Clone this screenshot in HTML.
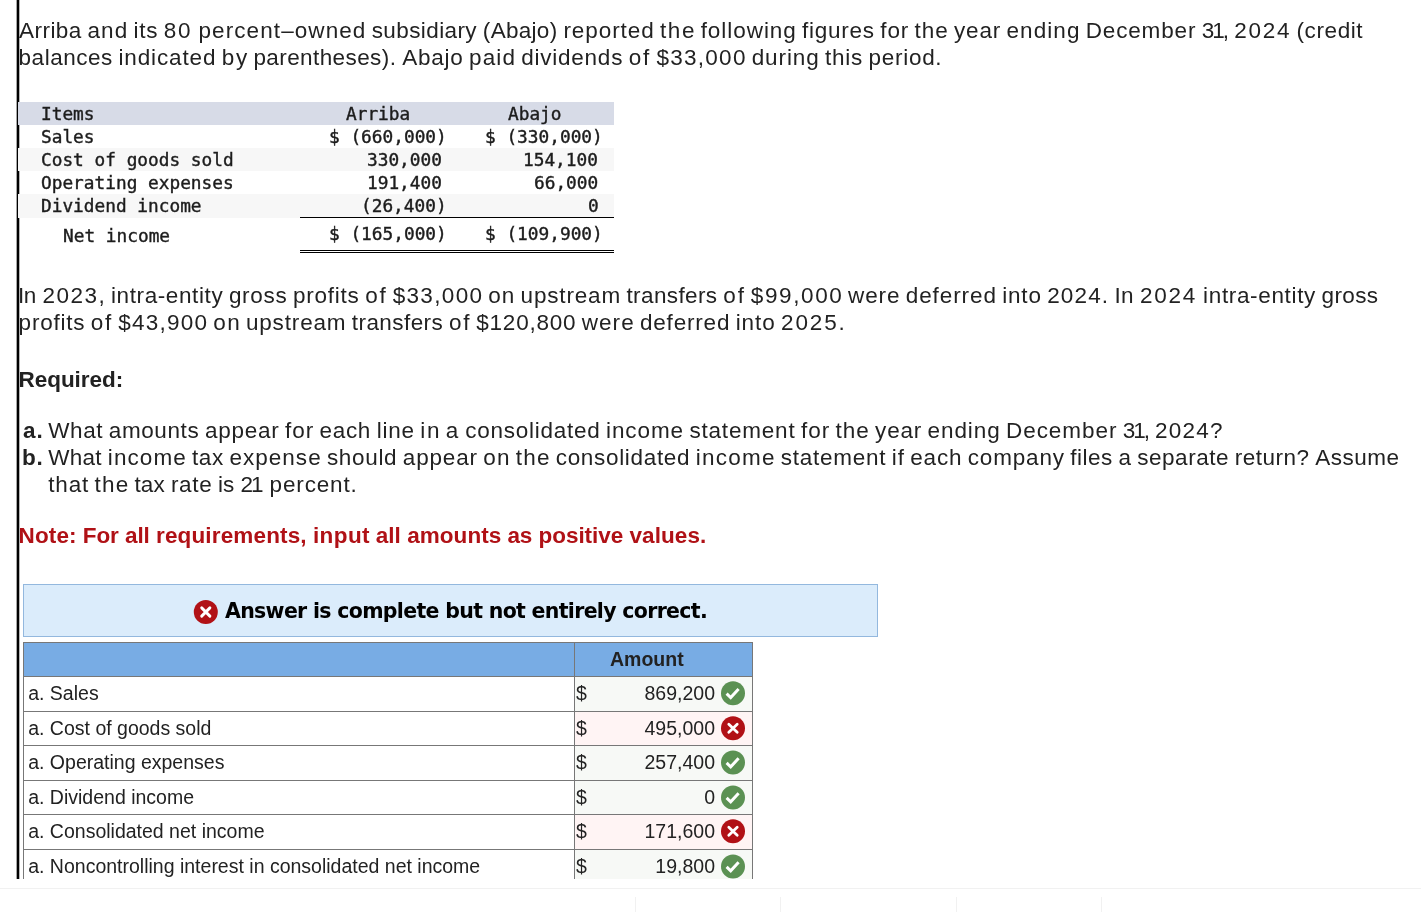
<!DOCTYPE html>
<html lang="en">
<head>
<meta charset="utf-8">
<title>Consolidated income statement problem</title>
<style>
html,body{margin:0;padding:0;background:#fff;overflow:hidden;}
body{width:1421px;height:912px;position:relative;overflow:hidden;font-family:"Liberation Sans",Arial,sans-serif;color:#222;}
.abs{position:absolute;}
.vline{position:absolute;left:17px;top:0;width:2px;height:879px;background:#000;}
.t{position:absolute;left:19px;white-space:nowrap;font-size:22.5px;line-height:27px;height:27px;color:#222;}
.b{font-weight:bold;}
/* monospace table */
.mrow{position:absolute;left:18px;width:596px;height:23px;}
.m{position:absolute;white-space:pre;font-family:"DejaVu Sans Mono","Liberation Mono",monospace;font-size:17.8px;line-height:23px;height:23px;color:#1c1c1c;-webkit-text-stroke:0.4px #1c1c1c;}
/* answer table */
.a{position:absolute;white-space:nowrap;font-family:"Liberation Sans",Arial,sans-serif;font-size:19.5px;line-height:34px;height:34px;color:#222;}
.hl{position:absolute;left:23px;width:730px;height:1px;background:#777;}
.cell{position:absolute;left:575px;width:177px;height:34px;}
.ok{background:#f7f9f6;}
.bad{background:#fff4f4;}
.ic{position:absolute;width:24px;height:24px;}
</style>
</head>
<body>
<div class="vline"></div>
<div class="abs" style="left:16px;top:0;width:1px;height:879px;background:#a6a6a6;"></div>
<div class="abs" style="left:19px;top:0;width:1px;height:879px;background:#b4b4b4;"></div>

<div class="t" id="l1" style="left:19.1px;top:17px;"><span style="letter-spacing:0.43px;word-spacing:-0.88px">Arriba </span><span style="letter-spacing:1.1px;word-spacing:-2.19px">and </span><span style="letter-spacing:0.72px;word-spacing:-1.43px">its </span><span style="letter-spacing:1.8px;word-spacing:-1.88px">80 </span><span style="letter-spacing:1.08px;word-spacing:-2.13px">percent–owned </span><span style="letter-spacing:0.41px;word-spacing:-0.86px">subsidiary </span><span style="letter-spacing:0.3px;word-spacing:-0.58px">(Abajo) </span><span style="letter-spacing:0.92px;word-spacing:-1.83px">reported </span><span style="letter-spacing:1.59px;word-spacing:-3.19px">the </span><span style="letter-spacing:0.95px;word-spacing:-1.9px">following </span><span style="letter-spacing:0.74px;word-spacing:-1.5px">figures </span><span style="letter-spacing:0.85px;word-spacing:-1.71px">for </span><span style="letter-spacing:0.99px;word-spacing:-1.99px">the </span><span style="letter-spacing:0.83px;word-spacing:-1.67px">year </span><span style="letter-spacing:1.08px;word-spacing:-2.18px">ending </span><span style="letter-spacing:0.84px;word-spacing:-1.7px">December </span><span style="letter-spacing:-2px;word-spacing:2.97px">31, </span><span style="letter-spacing:1.8px;word-spacing:-2.9px">2024 </span><span style="letter-spacing:0.59px">(credit</span></div>
<div class="t" id="l2" style="left:18.6px;top:44px;"><span style="letter-spacing:0.51px;word-spacing:-1.01px">balances </span><span style="letter-spacing:0.86px;word-spacing:-1.72px">indicated </span><span style="letter-spacing:1.69px;word-spacing:-3.38px">by </span><span style="letter-spacing:0.41px;word-spacing:-0.87px">parentheses). </span><span style="letter-spacing:0.78px;word-spacing:-1.58px">Abajo </span><span style="letter-spacing:1.14px;word-spacing:-2.29px">paid </span><span style="letter-spacing:0.76px;word-spacing:-1.52px">dividends </span><span style="letter-spacing:1.8px;word-spacing:-2.62px">of </span><span style="letter-spacing:1.27px;word-spacing:-2.54px">$33,000 </span><span style="letter-spacing:0.92px;word-spacing:-1.84px">during </span><span style="letter-spacing:0.75px;word-spacing:-1.51px">this </span><span style="letter-spacing:0.71px">period.</span></div>

<!-- monospace table -->
<div class="mrow" style="top:102px;background:#d7dbe7;"></div>
<div class="mrow" style="top:148px;background:#f7f7f7;"></div>
<div class="mrow" style="top:194px;background:#f7f7f7;"></div>
<div class="abs" style="left:18px;top:217px;width:282px;height:1px;background:#f7f7f7;"></div>
<div class="abs" style="left:300px;top:217px;width:314px;height:1px;background:#000;"></div>
<div class="abs" style="left:300px;top:250px;width:314px;height:3px;border-top:1px solid #000;border-bottom:1px solid #000;box-sizing:border-box;"></div>

<div class="m" style="left:41px;top:102px;">Items</div>
<div class="m" style="left:41px;top:125px;">Sales</div>
<div class="m" style="left:41px;top:148px;">Cost of goods sold</div>
<div class="m" style="left:41px;top:171px;">Operating expenses</div>
<div class="m" style="left:41px;top:194px;">Dividend income</div>
<div class="m" style="left:63px;top:224px;">Net income</div>

<div class="m" style="left:346px;top:102px;">Arriba</div>
<div class="m" style="left:329px;top:125px;">$ (660,000)</div>
<div class="m" style="left:367px;top:148px;">330,000</div>
<div class="m" style="left:367px;top:171px;">191,400</div>
<div class="m" style="left:361px;top:194px;">(26,400)</div>
<div class="m" style="left:329px;top:222px;">$ (165,000)</div>

<div class="m" style="left:508px;top:102px;">Abajo</div>
<div class="m" style="left:485px;top:125px;">$ (330,000)</div>
<div class="m" style="left:523px;top:148px;">154,100</div>
<div class="m" style="left:534px;top:171px;">66,000</div>
<div class="m" style="left:588px;top:194px;">0</div>
<div class="m" style="left:485px;top:222px;">$ (109,900)</div>

<div class="t" id="l3" style="left:18.1px;top:282px;"><span style="letter-spacing:-0.52px;word-spacing:1.04px">In </span><span style="letter-spacing:1.46px;word-spacing:-2.92px">2023, </span><span style="letter-spacing:0.6px;word-spacing:-1.19px">intra-entity </span><span style="letter-spacing:0.68px;word-spacing:-1.35px">gross </span><span style="letter-spacing:0.78px;word-spacing:-1.56px">profits </span><span style="letter-spacing:1.8px;word-spacing:-2.92px">of </span><span style="letter-spacing:1.34px;word-spacing:-2.7px">$33,000 </span><span style="letter-spacing:1.02px;word-spacing:-2.04px">on </span><span style="letter-spacing:0.84px;word-spacing:-1.7px">upstream </span><span style="letter-spacing:0.39px;word-spacing:-0.78px">transfers </span><span style="letter-spacing:1.8px;word-spacing:-2.92px">of </span><span style="letter-spacing:1.6px;word-spacing:-3.18px">$99,000 </span><span style="letter-spacing:0.89px;word-spacing:-1.77px">were </span><span style="letter-spacing:0.91px;word-spacing:-1.84px">deferred </span><span style="letter-spacing:0.82px;word-spacing:-1.63px">into </span><span style="letter-spacing:1.16px;word-spacing:-2.32px">2024. </span><span style="letter-spacing:0.48px;word-spacing:-0.96px">In </span><span style="letter-spacing:1.8px;word-spacing:-2.1px">2024 </span><span style="letter-spacing:0.65px;word-spacing:-1.34px">intra-entity </span><span style="letter-spacing:0.38px">gross</span></div>
<div class="t" id="l4" style="left:18.6px;top:309px;"><span style="letter-spacing:0.78px;word-spacing:-1.56px">profits </span><span style="letter-spacing:1.8px;word-spacing:-2.92px">of </span><span style="letter-spacing:1.22px;word-spacing:-2.44px">$43,900 </span><span style="letter-spacing:1.42px;word-spacing:-2.84px">on </span><span style="letter-spacing:0.84px;word-spacing:-1.7px">upstream </span><span style="letter-spacing:0.43px;word-spacing:-0.88px">transfers </span><span style="letter-spacing:1.8px;word-spacing:-3.12px">of </span><span style="letter-spacing:0.76px;word-spacing:-1.54px">$120,800 </span><span style="letter-spacing:1.06px;word-spacing:-2.12px">were </span><span style="letter-spacing:0.81px;word-spacing:-1.64px">deferred </span><span style="letter-spacing:0.96px;word-spacing:-1.93px">into </span><span style="letter-spacing:1.86px">2025.</span></div>

<div class="t b" id="l5" style="left:18.5px;top:366px;"><span style="letter-spacing:-0.04px">Required:</span></div>

<div class="t b" id="m6" style="left:22.9px;top:417px;"><span style="letter-spacing:1.09px">a.</span></div>
<div class="t" id="l6" style="left:48.3px;top:417px;"><span style="letter-spacing:0.58px;word-spacing:-1.17px">What </span><span style="letter-spacing:0.59px;word-spacing:-1.17px">amounts </span><span style="letter-spacing:0.78px;word-spacing:-1.57px">appear </span><span style="letter-spacing:0.9px;word-spacing:-1.81px">for </span><span style="letter-spacing:0.72px;word-spacing:-1.44px">each </span><span style="letter-spacing:0.81px;word-spacing:-1.63px">line </span><span style="letter-spacing:1.74px;word-spacing:-3.48px">in </span><span style="letter-spacing:0px;word-spacing:0.74px">a </span><span style="letter-spacing:0.73px;word-spacing:-1.48px">consolidated </span><span style="letter-spacing:0.92px;word-spacing:-1.82px">income </span><span style="letter-spacing:0.81px;word-spacing:-1.65px">statement </span><span style="letter-spacing:1px;word-spacing:-2.01px">for </span><span style="letter-spacing:1.09px;word-spacing:-2.19px">the </span><span style="letter-spacing:0.79px;word-spacing:-1.57px">year </span><span style="letter-spacing:0.94px;word-spacing:-1.9px">ending </span><span style="letter-spacing:0.95px;word-spacing:-1.89px">December </span><span style="letter-spacing:-2px;word-spacing:2.67px">31, </span><span style="letter-spacing:1.24px">2024?</span></div>
<div class="t b" id="m7" style="left:21.9px;top:444px;"><span style="letter-spacing:0.86px">b.</span></div>
<div class="t" id="l7" style="left:48.3px;top:444px;"><span style="letter-spacing:0.24px;word-spacing:-0.47px">What </span><span style="letter-spacing:1.08px;word-spacing:-2.14px">income </span><span style="letter-spacing:0.57px;word-spacing:-1.15px">tax </span><span style="letter-spacing:1.03px;word-spacing:-2.06px">expense </span><span style="letter-spacing:0.67px;word-spacing:-1.34px">should </span><span style="letter-spacing:0.84px;word-spacing:-1.69px">appear </span><span style="letter-spacing:1.12px;word-spacing:-2.24px">on </span><span style="letter-spacing:1.24px;word-spacing:-2.49px">the </span><span style="letter-spacing:0.68px;word-spacing:-1.33px">consolidated </span><span style="letter-spacing:1.24px;word-spacing:-2.46px">income </span><span style="letter-spacing:0.73px;word-spacing:-1.45px">statement </span><span style="letter-spacing:1px;word-spacing:-2px">if </span><span style="letter-spacing:0.82px;word-spacing:-1.64px">each </span><span style="letter-spacing:0.81px;word-spacing:-1.63px">company </span><span style="letter-spacing:0.48px;word-spacing:-0.94px">files </span><span style="letter-spacing:0px;word-spacing:-0.06px">a </span><span style="letter-spacing:0.56px;word-spacing:-1.15px">separate </span><span style="letter-spacing:0.49px;word-spacing:-0.96px">return? </span><span style="letter-spacing:0.47px">Assume</span></div>
<div class="t" id="l8" style="left:48.3px;top:471px;"><span style="letter-spacing:0.81px;word-spacing:-1.63px">that </span><span style="letter-spacing:1.24px;word-spacing:-2.49px">the </span><span style="letter-spacing:0.12px;word-spacing:-0.25px">tax </span><span style="letter-spacing:0.63px;word-spacing:-1.27px">rate </span><span style="letter-spacing:0px">is </span><span style="letter-spacing:-2px;word-spacing:3.92px">21 </span><span style="letter-spacing:0.84px">percent.</span></div>

<div class="t b" id="l9" style="left:18.6px;top:522px;color:#b01116;"><span style="letter-spacing:0.11px;word-spacing:-0.2px">Note: </span><span style="letter-spacing:-0.15px;word-spacing:0.3px">For </span><span style="letter-spacing:-0.13px;word-spacing:0.25px">all </span><span style="letter-spacing:0.15px;word-spacing:-0.25px">requirements, </span><span style="letter-spacing:0.42px;word-spacing:-0.85px">input </span><span style="letter-spacing:0.02px;word-spacing:-0.05px">all </span><span style="letter-spacing:0.07px;word-spacing:-0.17px">amounts </span><span style="letter-spacing:-0.28px;word-spacing:0.56px">as </span><span style="letter-spacing:-0.05px;word-spacing:0.08px">positive </span><span style="letter-spacing:0.09px">values.</span></div>

<!-- banner -->
<div class="abs" style="left:23px;top:584px;width:855px;height:53px;box-sizing:border-box;border:1px solid #93b8de;background:#dbecfb;"></div>
<div class="abs b" id="ans" style="left:225px;top:596px;white-space:nowrap;font-family:'DejaVu Sans','Liberation Sans',sans-serif;font-size:20.5px;letter-spacing:-0.68px;line-height:30px;color:#000;">Answer is complete but not entirely correct.</div>

<!-- answer table -->
<div class="abs" style="left:23px;top:643px;width:729px;height:34px;background:#78ace4;"></div>
<div class="cell ok" style="top:677px;"></div>
<div class="cell bad" style="top:712px;"></div>
<div class="cell ok" style="top:746px;"></div>
<div class="cell ok" style="top:781px;"></div>
<div class="cell bad" style="top:815px;"></div>
<div class="cell ok" style="top:850px;height:29px;"></div>

<div class="hl" style="top:642px;"></div>
<div class="hl" style="top:676px;"></div>
<div class="hl" style="top:711px;"></div>
<div class="hl" style="top:745px;"></div>
<div class="hl" style="top:780px;"></div>
<div class="hl" style="top:814px;"></div>
<div class="hl" style="top:849px;"></div>
<div class="abs" style="left:23px;top:642px;width:1px;height:237px;background:#777;"></div>
<div class="abs" style="left:574px;top:642px;width:1px;height:237px;background:#777;"></div>
<div class="abs" style="left:752px;top:642px;width:1px;height:237px;background:#777;"></div>

<div class="a b" style="left:610px;top:642px;">Amount</div>

<div class="a" style="left:28.2px;top:676px;">a. Sales</div>
<div class="a" style="left:28.2px;top:711px;">a. Cost of goods sold</div>
<div class="a" style="left:28.2px;top:745px;">a. Operating expenses</div>
<div class="a" style="left:28.2px;top:780px;">a. Dividend income</div>
<div class="a" style="left:28.2px;top:814px;">a. Consolidated net income</div>
<div class="a" style="left:28.2px;top:849px;">a. Noncontrolling interest in consolidated net income</div>

<div class="a" style="left:576px;top:676px;">$</div>
<div class="a" style="left:576px;top:711px;">$</div>
<div class="a" style="left:576px;top:745px;">$</div>
<div class="a" style="left:576px;top:780px;">$</div>
<div class="a" style="left:576px;top:814px;">$</div>
<div class="a" style="left:576px;top:849px;">$</div>

<div class="a" style="right:706px;top:676px;">869,200</div>
<div class="a" style="right:706px;top:711px;">495,000</div>
<div class="a" style="right:706px;top:745px;">257,400</div>
<div class="a" style="right:706px;top:780px;">0</div>
<div class="a" style="right:706px;top:814px;">171,600</div>
<div class="a" style="right:706px;top:849px;">19,800</div>


<svg class="abs" style="left:191px;top:598px;" width="28" height="28" viewBox="0 0 28 28"><g transform="translate(2.80 2.00)"><circle cx="12" cy="12" r="12" fill="#b11116"/><path d="M7.9 7.9 L16.1 16.1 M16.1 7.9 L7.9 16.1" stroke="#fff" stroke-width="2.9" stroke-linecap="round" fill="none"/></g></svg>
<svg class="abs" style="left:719px;top:679px;" width="28" height="28" viewBox="0 0 28 28"><g transform="translate(2.00 2.30)"><circle cx="12" cy="12" r="12" fill="#5b9153"/><path d="M5.6 12.4 L9.7 16.3 L17.6 7.8" stroke="#fff" stroke-width="3" stroke-linejoin="miter" fill="none"/></g></svg>
<svg class="abs" style="left:719px;top:714px;" width="28" height="28" viewBox="0 0 28 28"><g transform="translate(2.00 2.30)"><circle cx="12" cy="12" r="12" fill="#b11116"/><path d="M7.8 8 L16.2 16 M16.2 8 L7.8 16" stroke="#fff" stroke-width="2.8" stroke-linecap="round" fill="none"/></g></svg>
<svg class="abs" style="left:719px;top:748px;" width="28" height="28" viewBox="0 0 28 28"><g transform="translate(2.00 2.50)"><circle cx="12" cy="12" r="12" fill="#5b9153"/><path d="M5.6 12.4 L9.7 16.3 L17.6 7.8" stroke="#fff" stroke-width="3" stroke-linejoin="miter" fill="none"/></g></svg>
<svg class="abs" style="left:719px;top:783px;" width="28" height="28" viewBox="0 0 28 28"><g transform="translate(2.00 2.50)"><circle cx="12" cy="12" r="12" fill="#5b9153"/><path d="M5.6 12.4 L9.7 16.3 L17.6 7.8" stroke="#fff" stroke-width="3" stroke-linejoin="miter" fill="none"/></g></svg>
<svg class="abs" style="left:719px;top:817px;" width="28" height="28" viewBox="0 0 28 28"><g transform="translate(2.00 2.20)"><circle cx="12" cy="12" r="12" fill="#b11116"/><path d="M7.8 8 L16.2 16 M16.2 8 L7.8 16" stroke="#fff" stroke-width="2.8" stroke-linecap="round" fill="none"/></g></svg>
<svg class="abs" style="left:719px;top:852px;" width="28" height="28" viewBox="0 0 28 28"><g transform="translate(2.00 2.50)"><circle cx="12" cy="12" r="12" fill="#5b9153"/><path d="M5.6 12.4 L9.7 16.3 L17.6 7.8" stroke="#fff" stroke-width="3" stroke-linejoin="miter" fill="none"/></g></svg>
<!-- bottom mask + faint footer -->
<div class="abs" style="left:0;top:879px;width:1421px;height:33px;background:#fff;"></div>
<div class="abs" style="left:0;top:888px;width:1421px;height:1px;background:#f1f1f1;"></div>
<div class="abs" style="left:635px;top:897px;width:1px;height:15px;background:#f1f1f1;"></div>
<div class="abs" style="left:780px;top:897px;width:1px;height:15px;background:#f1f1f1;"></div>
<div class="abs" style="left:956px;top:897px;width:1px;height:15px;background:#f1f1f1;"></div>
<div class="abs" style="left:1101px;top:897px;width:1px;height:15px;background:#f1f1f1;"></div>
</body>
</html>
